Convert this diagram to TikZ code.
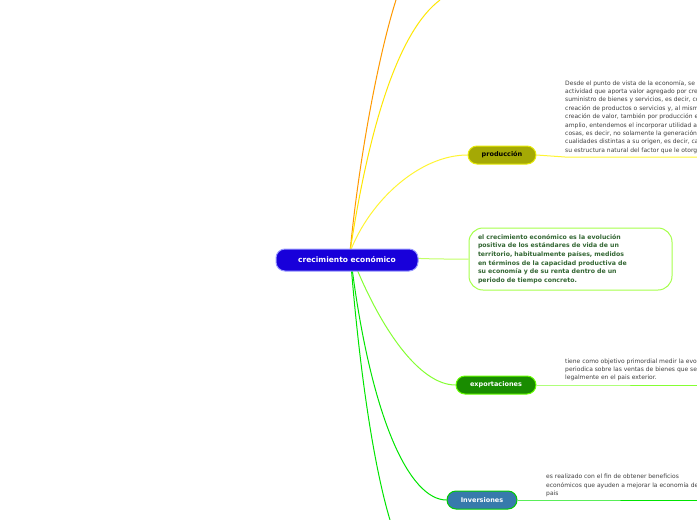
\documentclass[tikz,border=0pt]{standalone}
\usepackage{fontspec}
\setmainfont{DejaVu Sans}
\begin{document}
\begin{tikzpicture}[x=1pt,y=-1pt,
  topic/.style={rounded corners=9pt,draw,line width=1pt,text=white,font=\bfseries\fontsize{6.5}{8}\selectfont,minimum height=18pt,inner sep=0pt},
  note/.style={align=left,text=black!75,font=\fontsize{6}{8.4}\selectfont,inner sep=0pt,anchor=north west},
  link/.style={line width=1pt}]
\clip (0,0) rectangle (697,520);
\fill[white] (0,0) rectangle (697,520);
\coordinate (o) at (350,252);
\coordinate (t1) at (396,0);
\coordinate (t2) at (440,0);
\coordinate (b1) at (390,520);
\draw[link,orange!80!yellow] (o) .. controls (360,150) and (380,50) .. (t1);
\draw[link,yellow!90!orange] (o) .. controls (370,120) and (400,30) .. (t2);
\node[topic,fill=yellow!30!olive!90!green,draw=yellow!90!green,text=black,minimum width=68pt] (p) at (502,155) {producción};
\node[draw=green!50!yellow!70,line width=1pt,rounded corners=14pt,minimum width=203pt,minimum height=62pt,align=left,text width=185pt,text=green!25!black!80,font=\bfseries\fontsize{6.2}{8.6}\selectfont] (d) at (570.5,259) {el crecimiento económico es la evolución\\positiva de los estándares de vida de un\\territorio, habitualmente países, medidos\\en términos de la capacidad productiva de\\su economía y de su renta dentro de un\\periodo de tiempo concreto.};
\node[topic,fill=green!50!black!90!yellow,draw=green!60!yellow,minimum width=80pt] (e) at (496,385) {exportaciones};
\node[topic,fill=cyan!70!blue!75!black,draw=green!80!black,minimum width=70pt] (i) at (482,500) {Inversiones};
\draw[link,yellow!80] (o) .. controls (370,200) and (420,155) .. (p.west);
\draw[link,green!40!yellow!60] (o) .. controls (400,260) and (450,259) .. (d.west);
\draw[link,green!60!yellow!80] (o) .. controls (380,330) and (420,385) .. (e.west);
\draw[link,green!90!black] (o) .. controls (370,420) and (410,500) .. (i.west);
\draw[link,green!90!black] (o) .. controls (360,380) and (375,470) .. (b1);
\node[topic,fill=blue!80!violet!95!black,draw=blue!40,minimum width=142pt,minimum height=22pt,font=\bfseries\fontsize{7.5}{9}\selectfont] (c) at (347,260) {crecimiento económico};
\node[note] (pt) at (565,80) {Desde el punto de vista de la economía, se entiende por producción la\\actividad que aporta valor agregado por creación y\\suministro de bienes y servicios, es decir, consiste en la\\creación de productos o servicios y, al mismo tiempo, la\\creación de valor, también por producción en sentido\\amplio, entendemos el incorporar utilidad a las\\cosas, es decir, no solamente la generación de\\cualidades distintas a su origen, es decir, cambiar\\su estructura natural del factor que le otorga valor};
\coordinate (pe) at (697,157);
\draw[yellow!80,line width=1pt] (p.east) -- (565,157) -- (pe);
\node[note] (et) at (565,358) {tiene como objetivo primordial medir la evolución\\periodica sobre las ventas de bienes que se realizan\\legalmente en el pais exterior.};
\coordinate (ee) at (697,385);
\draw[green!60!yellow!80,line width=1pt] (e.east) -- (565,385) -- (ee);
\node[note] (it) at (546,474) {es realizado con el fin de obtener beneficios\\económicos que ayuden a mejorar la economía del\\pais};
\coordinate (ie) at (697,500);
\draw[green!90!black,line width=1pt] (i.east) -- (546,500) -- (ie);
\end{tikzpicture}
\end{document}
